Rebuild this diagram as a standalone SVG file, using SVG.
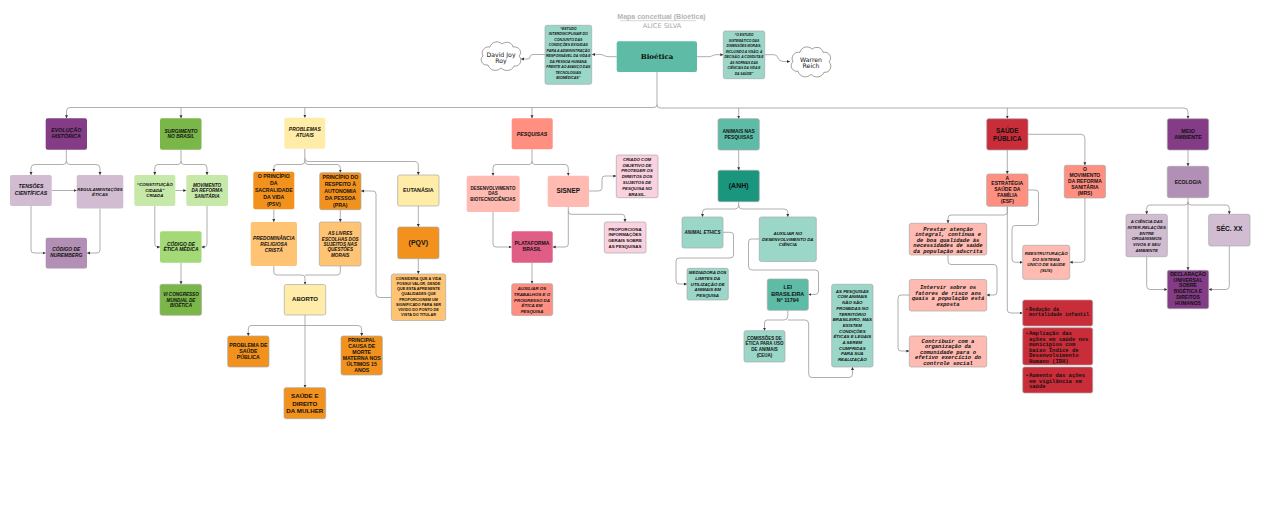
<svg xmlns="http://www.w3.org/2000/svg" width="1280" height="507" viewBox="0 0 1280 507">
<style>
text{font-family:"Liberation Sans",Arial,sans-serif;font-weight:700;fill:#111;text-anchor:middle;dominant-baseline:central}
.i{font-style:italic}
.m{font-family:"Liberation Mono","Courier New",monospace}
.l{text-anchor:start}
.o{stroke:#a9a9a9;stroke-width:.7}
.c{fill:none;stroke:#9b9b9b;stroke-width:.8}
.a{marker-end:url(#arr)}
</style>
<defs>
<marker id="arr" markerUnits="userSpaceOnUse" markerWidth="4" markerHeight="4" refX="3" refY="1.5" orient="auto"><path d="M0 0L3 1.5L0 3Z" fill="#333"/></marker>
<path id="cloud" d="M8 24C2 25-1 18 3 15C0 10 5 5 10 6C11 1 18-1 22 3C26 0 32 1 33 6C39 5 43 11 39 15C43 19 40 26 34 25C32 30 25 31 21 27C17 31 10 30 8 24Z" fill="#fff" stroke="#777" stroke-width=".7"/>
</defs>
<rect width="1280" height="507" fill="#fff"/>
<g id="title">
<text x="661.5" y="16" font-size="7" style="fill:#b5b5b5">Mapa conceitual (Bioética)</text>
<path d="M620 20.7H696" stroke="#c4c4c4" stroke-width=".7"/>
<text x="662" y="25.7" font-size="6.6" style="fill:#a8a8a8;font-weight:400;font-family:'DejaVu Sans',sans-serif">ALICE SILVA</text>
</g>
<g id="connectors" class="c">
<path class="a" d="M657 72V104.5Q657 107.5 654 107.5H70Q66.5 107.5 66.5 111V118.3"/>
<path class="a" d="M657 104.5Q657 108 660 108H1184Q1188 108 1188 112V118.7"/>
<path class="a" d="M181 107.5V118.3"/><path class="a" d="M304.8 107.5V117.7"/><path class="a" d="M532 107.5V118.3"/><path class="a" d="M738.7 108V118.7"/><path class="a" d="M1007.3 108V118.7"/>
<path class="a" d="M616.7 56.7H609Q606 56.7 604 55.5T600 54.4H592"/>
<path class="a" d="M545 54.5H533Q530 54.5 530 57T527 59H521"/>
<path class="a" d="M697 56.7H708Q711 56.7 713 55.5T717 54.7H723.3"/>
<path class="a" d="M764.7 54.7H774Q777 54.7 778 58T783 61.5H790"/>
<path class="a" d="M66.3 149.7V161Q66.3 164.5 63 164.5H35Q31 164.5 31 168V175"/>
<path class="a" d="M66.3 161Q66.3 164.5 70 164.5H96Q100 164.5 100 168V175"/>
<path class="a" d="M51.7 190.5H76.7"/>
<path class="a" d="M31 206V250Q31 253 34 253H45.7"/>
<path class="a" d="M100 208.5V250Q100 253 97 253H87"/>
<path class="a" d="M181 149.7V161Q181 164.5 178 164.5H158Q154.8 164.5 154.8 168V175"/>
<path class="a" d="M181 161Q181 164.5 184 164.5H204Q207 164.5 207 168V175"/>
<path class="a" d="M175.3 190.5H186.3"/>
<path class="a" d="M154.8 206V244Q154.8 247 158 247H160"/>
<path class="a" d="M207 206V244Q207 247 204 247H201.5"/>
<path class="a" d="M181 262.7V284.3"/>
<path class="a" d="M304.8 148.7V161Q304.8 164.5 301 164.5H277Q273.8 164.5 273.8 168V171.7"/>
<path class="a" d="M304.8 161Q304.8 164.5 308 164.5H337Q340.3 164.5 340.3 168V172.7"/>
<path class="a" d="M304.8 158Q304.8 161.5 308 161.5H414Q418.3 161.5 418.3 165V175"/>
<path class="a" d="M273.8 209.3V222"/><path class="a" d="M340.3 209.7V222"/>
<path class="a" d="M273.8 266V272Q273.8 275 277 275H302Q305 275 305 278V284.5"/>
<path d="M340.3 266V272Q340.3 275 337 275H305"/>
<path class="a" d="M418.3 206V227"/><path class="a" d="M418.3 258.7V274"/>
<path class="a" d="M391.3 297.5H380Q376 297.5 376 294V194Q376 191 373 191H361"/>
<path class="a" d="M305 315V387.7"/>
<path class="a" d="M305 325.5H251Q248.3 325.5 248.3 329V336"/>
<path class="a" d="M305 325.5H358Q361.7 325.5 361.7 329V336"/>
<path class="a" d="M532 149.3V161Q532 164.5 529 164.5H496Q493 164.5 493 168V175.7"/>
<path class="a" d="M532 161Q532 164.5 535 164.5H565Q568.3 164.5 568.3 168V175.7"/>
<path class="a" d="M493 212V244Q493 247 496 247H511.7"/>
<path class="a" d="M568.3 207V244Q568.3 247 565 247H552.7"/>
<path class="a" d="M532 262.7V283.7"/>
<path class="a" d="M589 191H598Q602 191 602 188V179Q602 176 605 176H616.3"/>
<path class="a" d="M568.3 211Q568.3 214.3 571 214.3H622Q625 214.3 625 218V222"/>
<path class="a" d="M738.7 150V170.3"/>
<path class="a" d="M738.7 201.7V205Q738.7 209 735 209H706Q702.5 209 702.5 212V217"/>
<path class="a" d="M738.7 205Q738.7 209 742 209H784Q787.8 209 787.8 212V217"/>
<path class="a" d="M723 232.3H730Q733.5 232.3 733.5 235V255Q733.5 258 730 258H679Q676 258 676 261V281Q676 284 679 284H687"/>
<path class="a" d="M759.3 239H751Q748.5 239 748.5 242V266Q748.5 270 752 270H815Q818.5 270 818.5 273V291Q818.5 294.5 815 294.5H808.3"/>
<path class="a" d="M787.8 310.3V316Q787.8 320 784 320H767Q764.5 320 764.5 323V330.7"/>
<path class="a" d="M787.8 320H805Q808.7 320 808.7 324V374Q808.7 377.5 812 377.5H849Q852.5 377.5 852.5 374V367"/>
<path class="a" d="M1007.3 150V174"/>
<path class="a" d="M1028 134.3H1081Q1084.9 134.3 1084.9 138V165.3"/>
<path class="a" d="M1007.3 206.3V212Q1007.3 215 1004 215H951Q948 215 948 218V223.3"/>
<path class="a" d="M1007.3 206.3V310Q1007.3 313 1011 313H1022.7"/>
<path class="a" d="M1028 190H1035Q1038.5 190 1038.5 193V222Q1038.5 225.5 1035 225.5H1015Q1012 225.5 1012 229V259Q1012 262.3 1015 262.3H1022.7"/>
<path class="a" d="M1084.9 198V259Q1084.9 262.3 1081 262.3H1069.7"/>
<path class="a" d="M948 255V261Q948 264.5 951 264.5H994Q997 264.5 997 268V292Q997 295 994 295H986.7"/>
<path class="a" d="M909.3 295H901Q898 295 898 298V348Q898 351 901 351H909.3"/>
<path class="a" d="M1188 150V166.3"/>
<path class="a" d="M1188 197.7V270.3"/>
<path class="a" d="M1188 202Q1188 205 1185 205H1150Q1146.7 205 1146.7 208V214.3"/>
<path class="a" d="M1188 202Q1188 205 1191 205H1226Q1229.3 205 1229.3 208V214.3"/>
<path class="a" d="M1146.7 256.7V286Q1146.7 289.5 1150 289.5H1167.3"/>
<path class="a" d="M1229.3 246V286Q1229.3 289.5 1226 289.5H1208.7"/>
</g>
<g id="bioetica"><rect x="616.7" y="41.3" width="80.3" height="30.7" rx="2" fill="#5dbba6"/><text x="657" y="56.5" font-size="7" style="font-family:'DejaVu Serif',serif">Bioética</text></g>
<g id="nota1"><rect class="o" x="545" y="25.3" width="46.7" height="59" rx="2" fill="#9bd7c9"/><text font-size="3.5" class="i"><tspan x="568.3" y="28.7">“ESTUDO</tspan><tspan x="568.3" y="34.2">INTERDISCIPLINAR DO</tspan><tspan x="568.3" y="39.7">CONJUNTO DAS</tspan><tspan x="568.3" y="45.2">CONDIÇÕES EXIGIDAS</tspan><tspan x="568.3" y="50.7">PARA A ADMINISTRAÇÃO</tspan><tspan x="568.3" y="56.2">RESPONSÁVEL DA VIDA E</tspan><tspan x="568.3" y="61.7">DA PESSOA HUMANA</tspan><tspan x="568.3" y="67.2">FRENTE AO AVANÇO DAS</tspan><tspan x="568.3" y="72.7">TECNOLOGIAS</tspan><tspan x="568.3" y="78.2">BIOMÉDICAS”</tspan></text></g>
<g id="nota2"><rect class="o" x="723.3" y="31" width="41.4" height="47.7" rx="2" fill="#9bd7c9"/><text font-size="3.3" class="i"><tspan x="744" y="35">“O ESTUDO</tspan><tspan x="744" y="40.5">SISTEMÁTICO DAS</tspan><tspan x="744" y="46">DIMENSÕES MORAIS,</tspan><tspan x="744" y="51.5">INCLUINDO A VISÃO, A</tspan><tspan x="744" y="57">DECISÃO, A CONDUTA E</tspan><tspan x="744" y="62.5">AS NORMAS DAS</tspan><tspan x="744" y="68">CIÊNCIAS DA VIDA E</tspan><tspan x="744" y="73.5">DA SAÚDE”</tspan></text></g>
<g id="david"><use href="#cloud" transform="translate(480,41)"/><text font-size="6.2" style="font-weight:400;font-family:'DejaVu Sans',sans-serif"><tspan x="501" y="54">David Joy</tspan><tspan x="501" y="60">Roy</tspan></text></g>
<g id="warren"><use href="#cloud" transform="translate(790,46) scale(1,1.05)"/><text font-size="6.2" style="font-weight:400;font-family:'DejaVu Sans',sans-serif"><tspan x="811" y="59">Warren</tspan><tspan x="811" y="65">Reich</tspan></text></g>

<g id="evolucao"><rect x="45.7" y="118.3" width="41.3" height="31.4" rx="2" fill="#833c85"/><text font-size="5.3" class="i"><tspan x="66.3" y="130">EVOLUÇÃO</tspan><tspan x="66.3" y="136">HISTÓRICA</tspan></text></g>
<g id="tensoes"><rect x="10" y="175" width="41.7" height="31" rx="2" fill="#d1bcd2"/><text font-size="5.2" class="i"><tspan x="31" y="186">TENSÕES</tspan><tspan x="31" y="192.7">CIENTÍFICAS</tspan></text></g>
<g id="regulamentacoes"><rect x="76.7" y="175" width="46.6" height="33.5" rx="2" fill="#d1bcd2"/><text font-size="4.3" class="i"><tspan x="100" y="189">REGULAMENTAÇÕES</tspan><tspan x="100" y="194">ÉTICAS</tspan></text></g>
<g id="nuremberg"><rect x="45.7" y="237.7" width="41.3" height="30.8" rx="2" fill="#b28fb4"/><text font-size="4.9" class="i"><tspan x="66.3" y="249">CÓDIGO DE</tspan><tspan x="66.3" y="254.7">NUREMBERG</tspan></text></g>
<g id="surgimento"><rect x="160" y="118.3" width="41.5" height="31.4" rx="2" fill="#7ab648"/><text font-size="4.9" class="i"><tspan x="181" y="130.7">SURGIMENTO</tspan><tspan x="181" y="136">NO BRASIL</tspan></text></g>
<g id="constituicao"><rect x="134.3" y="175" width="41" height="31" rx="2" fill="#c6e8a8"/><text font-size="4.4" class="i"><tspan x="154.8" y="184">“CONSTITUIÇÃO</tspan><tspan x="154.8" y="190">CIDADÃ”</tspan><tspan x="154.8" y="195.3">CRIADA</tspan></text></g>
<g id="movimento"><rect x="186.3" y="175" width="41.7" height="31" rx="2" fill="#c6e8a8"/><text font-size="4.6" class="i"><tspan x="207" y="184.5">MOVIMENTO</tspan><tspan x="207" y="190">DA REFORMA</tspan><tspan x="207" y="195.5">SANITÁRIA</tspan></text></g>
<g id="codigo-etica"><rect x="160" y="231.3" width="41.5" height="31.4" rx="2" fill="#a3d977"/><text font-size="4.9" class="i"><tspan x="181" y="243.7">CÓDIGO DE</tspan><tspan x="181" y="249">ÉTICA MÉDICA</tspan></text></g>
<g id="congresso"><rect class="o" x="160" y="284.3" width="41.5" height="31" rx="2" fill="#7ab648"/><text font-size="4.6" class="i"><tspan x="181" y="294">VI CONGRESSO</tspan><tspan x="181" y="299.7">MUNDIAL DE</tspan><tspan x="181" y="304.7">BIOÉTICA</tspan></text></g>

<g id="problemas"><rect x="284.3" y="117.7" width="41" height="31" rx="2" fill="#ffeca9"/><text font-size="5" class="i"><tspan x="304.8" y="129.3">PROBLEMAS</tspan><tspan x="304.8" y="135.3">ATUAIS</tspan></text></g>
<g id="psv"><rect x="253.3" y="171.7" width="41" height="37.6" rx="2" fill="#f2921d"/><text font-size="5.2"><tspan x="273.8" y="176">O PRINCÍPIO</tspan><tspan x="273.8" y="182.7">DA</tspan><tspan x="273.8" y="189.5">SACRALIDADE</tspan><tspan x="273.8" y="196.5">DA VIDA</tspan><tspan x="273.8" y="203.5">(PSV)</tspan></text></g>
<g id="pra"><rect class="o" x="319.7" y="172.7" width="41.3" height="37" rx="2" fill="#f2921d"/><text font-size="5.2"><tspan x="340.3" y="177">PRINCÍPIO DO</tspan><tspan x="340.3" y="183.7">RESPEITO À</tspan><tspan x="340.3" y="190.5">AUTONOMIA</tspan><tspan x="340.3" y="197.5">DA PESSOA</tspan><tspan x="340.3" y="204.5">(PRA)</tspan></text></g>
<g id="eutanasia"><rect class="o" x="397.7" y="175" width="41.3" height="31" rx="2" fill="#ffeca9"/><text x="418.3" y="190" font-size="5.3">EUTANÁSIA</text></g>
<g id="predominancia"><rect x="250.7" y="222" width="46.3" height="44" rx="2" fill="#ffc374"/><text font-size="4.9" class="i"><tspan x="273.8" y="238">PREDOMINÂNCIA</tspan><tspan x="273.8" y="243.7">RELIGIOSA</tspan><tspan x="273.8" y="249.5">CRISTÃ</tspan></text></g>
<g id="livres"><rect class="o" x="319.3" y="222" width="41.7" height="44" rx="2" fill="#ffc374"/><text font-size="4.6" class="i"><tspan x="340.2" y="233">AS LIVRES</tspan><tspan x="340.2" y="238.5">ESCOLHAS DOS</tspan><tspan x="340.2" y="243.7">SUJEITOS NAS</tspan><tspan x="340.2" y="249">QUESTÕES</tspan><tspan x="340.2" y="254.5">MORAIS</tspan></text></g>
<g id="pqv"><rect class="o" x="397.7" y="227" width="41.3" height="31.7" rx="2" fill="#f2921d"/><text x="418.3" y="242" font-size="7">(PQV)</text></g>
<g id="considera"><rect class="o" x="391.3" y="274" width="54.4" height="46.5" rx="2" fill="#ffc374"/><text font-size="3.8"><tspan x="418.5" y="278.7">CONSIDERA QUE A VIDA</tspan><tspan x="418.5" y="283.9">POSSUI VALOR, DESDE</tspan><tspan x="418.5" y="289.1">QUE ESTA APRESENTE</tspan><tspan x="418.5" y="294.3">QUALIDADES QUE</tspan><tspan x="418.5" y="299.5">PROPORCIONEM UM</tspan><tspan x="418.5" y="304.7">SIGNIFICADO PARA SER</tspan><tspan x="418.5" y="309.9">VIVIDO DO PONTO DE</tspan><tspan x="418.5" y="315.1">VISTA DO TITULAR</tspan></text></g>
<g id="aborto"><rect class="o" x="284.3" y="284.5" width="41.4" height="30.5" rx="2" fill="#ffeca9"/><text x="305" y="299" font-size="6">ABORTO</text></g>
<g id="problema-saude"><rect class="o" x="227.7" y="336" width="41.3" height="31" rx="2" fill="#f2921d"/><text font-size="5.2"><tspan x="248.3" y="345">PROBLEMA DE</tspan><tspan x="248.3" y="351">SAÚDE</tspan><tspan x="248.3" y="357">PÚBLICA</tspan></text></g>
<g id="principal"><rect class="o" x="341" y="336" width="41.3" height="39" rx="2" fill="#f2921d"/><text font-size="5.2"><tspan x="361.7" y="339.5">PRINCIPAL</tspan><tspan x="361.7" y="345.5">CAUSA DE</tspan><tspan x="361.7" y="351.5">MORTE</tspan><tspan x="361.7" y="357.5">MATERNA NOS</tspan><tspan x="361.7" y="363.5">ÚLTIMOS 15</tspan><tspan x="361.7" y="369.5">ANOS</tspan></text></g>
<g id="saude-mulher"><rect class="o" x="284" y="387.7" width="41.7" height="31" rx="2" fill="#f2921d"/><text font-size="6.2"><tspan x="304.8" y="395">SAÚDE E</tspan><tspan x="304.8" y="402.5">DIREITO</tspan><tspan x="304.8" y="410">DA MULHER</tspan></text></g>

<g id="pesquisas"><rect x="511.7" y="118.3" width="41" height="31" rx="2" fill="#ff8f80"/><text x="532" y="133.5" font-size="5.2" class="i">PESQUISAS</text></g>
<g id="desenvolvimento"><rect x="466.7" y="175.7" width="53" height="36.3" rx="2" fill="#ffbbb1"/><text font-size="4.5"><tspan x="493" y="187.5">DESENVOLVIMENTO</tspan><tspan x="493" y="193.3">DAS</tspan><tspan x="493" y="198.5">BIOTECNOCIÊNCIAS</tspan></text></g>
<g id="sisnep"><rect x="547.7" y="175.7" width="41.3" height="31.3" rx="2" fill="#ffbbb1"/><text x="568.3" y="190" font-size="6.4">SISNEP</text></g>
<g id="criado"><rect class="o" x="616.3" y="155" width="41.7" height="42.7" rx="2" fill="#fad1de"/><text font-size="4.3" class="i"><tspan x="637" y="158.7">CRIADO COM</tspan><tspan x="637" y="164.5">OBJETIVO DE</tspan><tspan x="637" y="170.3">PROTEGER OS</tspan><tspan x="637" y="176.1">DIREITOS DOS</tspan><tspan x="637" y="181.9">SUJEITOS DE</tspan><tspan x="637" y="187.7">PESQUISA NO</tspan><tspan x="637" y="193.5">BRASIL.</tspan></text></g>
<g id="proporciona"><rect class="o" x="604.3" y="222" width="41.7" height="31" rx="2" fill="#fad1de"/><text font-size="4.4"><tspan x="625" y="228.7">PROPORCIONA</tspan><tspan x="625" y="234.4">INFORMAÇÕES</tspan><tspan x="625" y="240.1">GERAIS SOBRE</tspan><tspan x="625" y="245.8">AS PESQUISAS</tspan></text></g>
<g id="plataforma"><rect x="511.7" y="231.3" width="41" height="31.4" rx="2" fill="#e05d86"/><text font-size="5.1"><tspan x="532" y="243">PLATAFORMA</tspan><tspan x="532" y="249">BRASIL</tspan></text></g>
<g id="auxiliar-trab"><rect class="o" x="511.7" y="283.7" width="41" height="31.8" rx="2" fill="#ff8f80"/><text font-size="4.4" class="i"><tspan x="532" y="288">AUXILIAR OS</tspan><tspan x="532" y="293.8">TRABALHOS E O</tspan><tspan x="532" y="299.6">PROGRESSO DA</tspan><tspan x="532" y="305.4">ÉTICA EM</tspan><tspan x="532" y="311">PESQUISA</tspan></text></g>

<g id="animais"><rect class="o" x="718" y="118.7" width="41.3" height="31.3" rx="2" fill="#5dbba6"/><text font-size="4.9"><tspan x="738.7" y="130.5">ANIMAIS NAS</tspan><tspan x="738.7" y="136.5">PESQUISAS</tspan></text></g>
<g id="anh"><rect class="o" x="718" y="170.3" width="41.3" height="31.4" rx="2" fill="#19967d"/><text x="738.7" y="185.5" font-size="7">(ANH)</text></g>
<g id="animal-ethics"><rect class="o" x="682" y="217" width="41" height="31" rx="2" fill="#9bd7c9"/><text x="702.5" y="232" font-size="4.6" class="i">ANIMAL ETHICS</text></g>
<g id="auxiliar-desenv"><rect class="o" x="759.3" y="217" width="57" height="44.5" rx="2" fill="#9bd7c9"/><text font-size="4.4" class="i"><tspan x="787.8" y="232.7">AUXILIAR NO</tspan><tspan x="787.8" y="238.5">DESENVOLVIMENTO DA</tspan><tspan x="787.8" y="244">CIÊNCIA</tspan></text></g>
<g id="mediadora"><rect class="o" x="687" y="268.3" width="41.3" height="31.7" rx="2" fill="#9bd7c9"/><text font-size="4.4" class="i"><tspan x="707.7" y="272">MEDIADORA DOS</tspan><tspan x="707.7" y="277.8">LIMITES DA</tspan><tspan x="707.7" y="283.6">UTILIZAÇÃO DE</tspan><tspan x="707.7" y="289.4">ANIMAIS EM</tspan><tspan x="707.7" y="295.4">PESQUISA</tspan></text></g>
<g id="lei"><rect class="o" x="767.3" y="279" width="41" height="31.3" rx="2" fill="#5dbba6"/><text font-size="5.4"><tspan x="787.8" y="287">LEI</tspan><tspan x="787.8" y="293.7">BRASILEIRA</tspan><tspan x="787.8" y="299.7">Nº 11794</tspan></text></g>
<g id="comissoes"><rect class="o" x="744" y="330.7" width="41" height="31.3" rx="2" fill="#9bd7c9"/><text font-size="4.5"><tspan x="764.5" y="337.5">COMISSÕES DE</tspan><tspan x="764.5" y="343.3">ÉTICA PARA USO</tspan><tspan x="764.5" y="349">DE ANIMAIS</tspan><tspan x="764.5" y="354.7">(CEUA)</tspan></text></g>
<g id="as-pesquisas"><rect class="o" x="831.7" y="284.3" width="41.3" height="82.7" rx="2" fill="#9bd7c9"/><text font-size="4.4" class="i"><tspan x="852.3" y="290.7">AS PESQUISAS</tspan><tspan x="852.3" y="296.4">COM ANIMAIS</tspan><tspan x="852.3" y="302.1">NÃO SÃO</tspan><tspan x="852.3" y="307.8">PROIBIDAS NO</tspan><tspan x="852.3" y="313.5">TERRITÓRIO</tspan><tspan x="852.3" y="319.2">BRASILEIRO, MAS</tspan><tspan x="852.3" y="324.9">EXISTEM</tspan><tspan x="852.3" y="330.6">CONDIÇÕES</tspan><tspan x="852.3" y="336.3">ÉTICAS E LEGAIS</tspan><tspan x="852.3" y="342">A SEREM</tspan><tspan x="852.3" y="347.7">CUMPRIDAS</tspan><tspan x="852.3" y="353.4">PARA SUA</tspan><tspan x="852.3" y="359.1">REALIZAÇÃO</tspan></text></g>

<g id="saude-publica"><rect class="o" x="986.7" y="118.7" width="41.3" height="31.3" rx="2" fill="#c92d39"/><text font-size="6.4"><tspan x="1007.3" y="130">SAÚDE</tspan><tspan x="1007.3" y="137.5">PÚBLICA</tspan></text></g>
<g id="esf"><rect class="o" x="986.7" y="174" width="41.3" height="32.3" rx="2" fill="#ff8f80"/><text font-size="5"><tspan x="1007.3" y="177.7">A</tspan><tspan x="1007.3" y="183.3">ESTRATÉGIA</tspan><tspan x="1007.3" y="189.2">SAÚDE DA</tspan><tspan x="1007.3" y="195.1">FAMÍLIA</tspan><tspan x="1007.3" y="201">(ESF)</tspan></text></g>
<g id="mrs"><rect class="o" x="1064.3" y="165.3" width="41.2" height="32.7" rx="2" fill="#ff8f80"/><text font-size="5"><tspan x="1084.9" y="169">O</tspan><tspan x="1084.9" y="175">MOVIMENTO</tspan><tspan x="1084.9" y="181">DA REFORMA</tspan><tspan x="1084.9" y="187">SANITÁRIA</tspan><tspan x="1084.9" y="192.7">(MRS)</tspan></text></g>
<g id="prestar"><rect class="o" x="909.3" y="223.3" width="77.4" height="31.7" rx="2" fill="#ffbbb1"/><text font-size="5.5" class="m i"><tspan x="948" y="228.7">Prestar atenção</tspan><tspan x="948" y="234.2">integral, contínua e</tspan><tspan x="948" y="239.7">de boa qualidade às</tspan><tspan x="948" y="245.2">necessidades de saúde</tspan><tspan x="948" y="250.7">da população adscrita</tspan></text></g>
<g id="reestruturacao"><rect class="o" x="1022.7" y="245.3" width="47" height="34" rx="2" fill="#ffbbb1"/><text font-size="4.4" class="i"><tspan x="1046.2" y="253">REESTRUTURAÇÃO</tspan><tspan x="1046.2" y="258.8">DO SISTEMA</tspan><tspan x="1046.2" y="264.3">ÚNICO DE SAÚDE</tspan><tspan x="1046.2" y="270">(SUS)</tspan></text></g>
<g id="intervir"><rect class="o" x="909.3" y="279.5" width="77.4" height="31.5" rx="2" fill="#ffbbb1"/><text font-size="5.5" class="m i"><tspan x="948" y="287">Intervir sobre os</tspan><tspan x="948" y="292.6">fatores de risco aos</tspan><tspan x="948" y="298.3">quais a população está</tspan><tspan x="948" y="304">exposta</tspan></text></g>
<g id="contribuir"><rect class="o" x="909.3" y="336" width="77.4" height="31" rx="2" fill="#ffbbb1"/><text font-size="5.5" class="m i"><tspan x="948" y="341">Contribuir com a</tspan><tspan x="948" y="346.4">organização da</tspan><tspan x="948" y="351.8">comunidade para o</tspan><tspan x="948" y="357.2">efetivo exercício do</tspan><tspan x="948" y="362.8">controle social</tspan></text></g>
<g id="reducao"><rect class="o" x="1022.7" y="300" width="70" height="26" rx="2" fill="#c92d39"/><text class="m l" font-size="5"><tspan x="1025.3" y="310">•</tspan><tspan x="1029" y="310">Redução da</tspan><tspan x="1029" y="315.3">mortalidade infantil</tspan></text></g>
<g id="ampliacao"><rect class="o" x="1022.7" y="327.7" width="70" height="37.3" rx="2" fill="#c92d39"/><text class="m l" font-size="5.5"><tspan x="1025.3" y="333">•</tspan><tspan x="1029" y="333">Ampliação das</tspan><tspan x="1029" y="338.6">ações em saúde nos</tspan><tspan x="1029" y="344.2">municípios com</tspan><tspan x="1029" y="349.8">baixo Índice de</tspan><tspan x="1029" y="355.4">Desenvolvimento</tspan><tspan x="1029" y="361">Humano (IDH)</tspan></text></g>
<g id="aumento"><rect class="o" x="1022.7" y="367" width="70" height="26" rx="2" fill="#c92d39"/><text class="m l" font-size="5.5"><tspan x="1025.3" y="375">•</tspan><tspan x="1029" y="375">Aumento das ações</tspan><tspan x="1029" y="380.5">em vigilância em</tspan><tspan x="1029" y="386">saúde</tspan></text></g>

<g id="meio"><rect class="o" x="1167.3" y="118.7" width="41.4" height="31.3" rx="2" fill="#833c85"/><text font-size="5.3"><tspan x="1188" y="130.5">MEIO</tspan><tspan x="1188" y="137">AMBIENTE</tspan></text></g>
<g id="ecologia"><rect class="o" x="1167.3" y="166.3" width="41.4" height="31.4" rx="2" fill="#b28fb4"/><text x="1188" y="181.5" font-size="5">ECOLOGIA</text></g>
<g id="ciencia"><rect class="o" x="1126" y="214.3" width="41.3" height="42.4" rx="2" fill="#d1bcd2"/><text font-size="4.3" class="i"><tspan x="1146.7" y="221">A CIÊNCIA DAS</tspan><tspan x="1146.7" y="226.8">INTER-RELAÇÕES</tspan><tspan x="1146.7" y="232.6">ENTRE</tspan><tspan x="1146.7" y="238.4">ORGANISMOS</tspan><tspan x="1146.7" y="244.2">VIVOS E SEU</tspan><tspan x="1146.7" y="250">AMBIENTE</tspan></text></g>
<g id="sec"><rect class="o" x="1208.7" y="214.3" width="41.3" height="31.7" rx="2" fill="#d1bcd2"/><text x="1229.3" y="228.5" font-size="6.6">SÉC. XX</text></g>
<g id="declaracao"><rect class="o" x="1167.3" y="270.3" width="41.4" height="38.4" rx="2" fill="#833c85"/><text font-size="5"><tspan x="1188" y="274">DECLARAÇÃO</tspan><tspan x="1188" y="279.7">UNIVERSAL</tspan><tspan x="1188" y="285.4">SOBRE</tspan><tspan x="1188" y="291.2">BIOÉTICA E</tspan><tspan x="1188" y="297">DIREITOS</tspan><tspan x="1188" y="302.6">HUMANOS</tspan></text></g>
</svg>
